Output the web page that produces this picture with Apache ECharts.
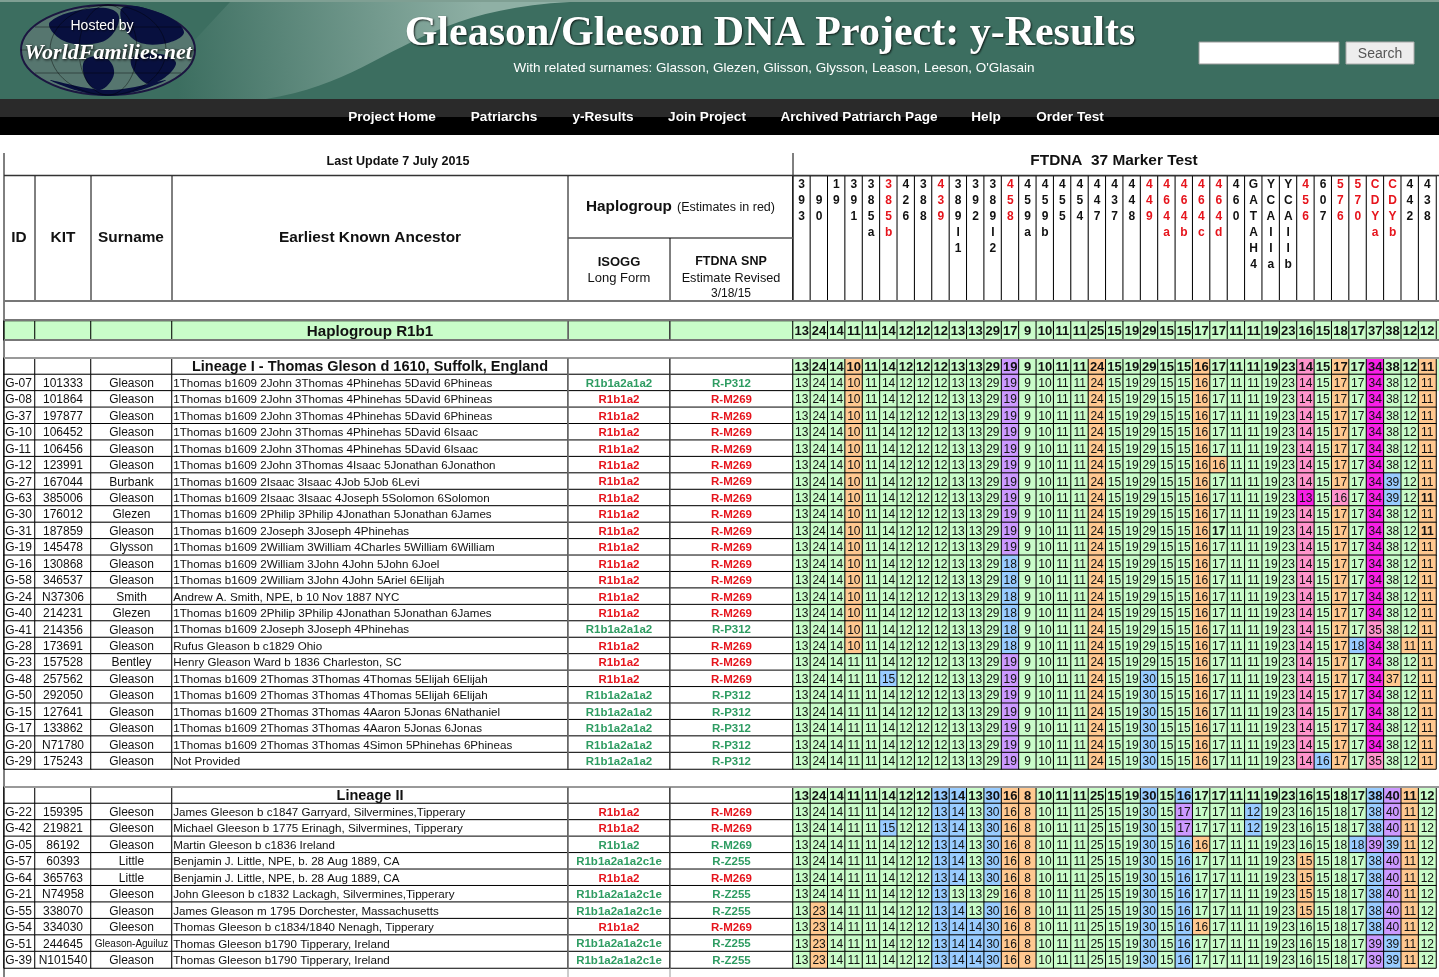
<!DOCTYPE html>
<html>
<head>
<meta charset="UTF-8">
<title>Gleason/Gleeson DNA Project: y-Results</title>
<script src="https://cdn.jsdelivr.net/npm/echarts@6/dist/echarts.min.js"></script>
<style>
html, body { margin: 0; padding: 0; background: #fff; }
#container { width: 1439px; height: 977px; }
</style>
</head>
<body>
<div id="container"></div>
<script>
// marker names, top to bottom in the header cell (a leading blank keeps the empty first line)
var markerNames = ['393',' 90','19','391','385a','385b','426','388','439','389I1','392','389I2','458','459a','459b','455','454','447','437','448','449','464a','464b','464c','464d','460','GATAH4','YCAIIa','YCAIIb','456','607','576','570','CDYa','CDYb','442','438'];
var redMarkers = ['385b','439','458','449','464a','464b','464c','464d','456','576','570','CDYa','CDYb'];

// the reference row, every other cell is coloured by its distance from this one
var modalRow = [13,24,14,11,11,14,12,12,12,13,13,29,17,9,10,11,11,25,15,19,29,15,15,17,17,11,11,19,23,16,15,18,17,37,38,12,12];

var heading1 = 'Lineage I - Thomas Gleson d 1610, Suffolk, England';
var header1 = [13,24,14,10,11,14,12,12,12,13,13,29,19,9,10,11,11,24,15,19,29,15,15,16,17,11,11,19,23,14,15,17,17,34,38,12,11];
var ids1 = ['G-07','G-08','G-37','G-10','G-11','G-12','G-27','G-63','G-30','G-31','G-19','G-16','G-58','G-24','G-40','G-41','G-28','G-23','G-48','G-50','G-15','G-17','G-20','G-29'];
var kits1 = ['101333','101864','197877','106452','106456','123991','167044','385006','176012','187859','145478','130868','346537','N37306','214231','214356','173691','157528','257562','292050','127641','133862','N71780','175243'];
var surnames1 = ['Gleason','Gleason','Gleason','Gleason','Gleason','Gleason','Burbank','Gleason','Glezen','Gleason','Glysson','Gleason','Gleason','Smith','Glezen','Gleason','Gleason','Bentley','Gleason','Gleason','Gleason','Gleason','Gleason','Gleason'];
var ancestors1 = [
  '1Thomas b1609 2John 3Thomas 4Phinehas 5David 6Phineas',
  '1Thomas b1609 2John 3Thomas 4Phinehas 5David 6Phineas',
  '1Thomas b1609 2John 3Thomas 4Phinehas 5David 6Phineas',
  '1Thomas b1609 2John 3Thomas 4Phinehas 5David 6Isaac',
  '1Thomas b1609 2John 3Thomas 4Phinehas 5David 6Isaac',
  '1Thomas b1609 2John 3Thomas 4Isaac 5Jonathan 6Jonathon',
  '1Thomas b1609 2Isaac 3Isaac 4Job 5Job 6Levi',
  '1Thomas b1609 2Isaac 3Isaac 4Joseph 5Solomon 6Solomon',
  '1Thomas b1609 2Philip 3Philip 4Jonathan 5Jonathan 6James',
  '1Thomas b1609 2Joseph 3Joseph 4Phinehas',
  '1Thomas b1609 2William 3William 4Charles 5William 6William',
  '1Thomas b1609 2William 3John 4John 5John 6Joel',
  '1Thomas b1609 2William 3John 4John 5Ariel 6Elijah',
  'Andrew A. Smith, NPE, b 10 Nov 1887 NYC',
  '1Thomas b1609 2Philip 3Philip 4Jonathan 5Jonathan 6James',
  '1Thomas b1609 2Joseph 3Joseph 4Phinehas',
  'Rufus Gleason b c1829 Ohio',
  'Henry Gleason Ward b 1836 Charleston, SC',
  '1Thomas b1609 2Thomas 3Thomas 4Thomas 5Elijah 6Elijah',
  '1Thomas b1609 2Thomas 3Thomas 4Thomas 5Elijah 6Elijah',
  '1Thomas b1609 2Thomas 3Thomas 4Aaron 5Jonas 6Nathaniel',
  '1Thomas b1609 2Thomas 3Thomas 4Aaron 5Jonas 6Jonas',
  '1Thomas b1609 2Thomas 3Thomas 4Simon 5Phinehas 6Phineas',
  'Not Provided'
];
var isogg1 = ['R1b1a2a1a2','R1b1a2','R1b1a2','R1b1a2','R1b1a2','R1b1a2','R1b1a2','R1b1a2','R1b1a2','R1b1a2','R1b1a2','R1b1a2','R1b1a2','R1b1a2','R1b1a2','R1b1a2a1a2','R1b1a2','R1b1a2','R1b1a2','R1b1a2a1a2','R1b1a2a1a2','R1b1a2a1a2','R1b1a2a1a2','R1b1a2a1a2'];
var snp1 = ['R-P312','R-M269','R-M269','R-M269','R-M269','R-M269','R-M269','R-M269','R-M269','R-M269','R-M269','R-M269','R-M269','R-M269','R-M269','R-P312','R-M269','R-M269','R-M269','R-P312','R-P312','R-P312','R-P312','R-P312'];
var tested1 = [1,0,0,0,0,0,0,0,0,0,0,0,0,0,0,1,0,0,0,1,1,1,1,1];
var markers1 = [
  [13,24,14,10,11,14,12,12,12,13,13,29,19,9,10,11,11,24,15,19,29,15,15,16,17,11,11,19,23,14,15,17,17,34,38,12,11],
  [13,24,14,10,11,14,12,12,12,13,13,29,19,9,10,11,11,24,15,19,29,15,15,16,17,11,11,19,23,14,15,17,17,34,38,12,11],
  [13,24,14,10,11,14,12,12,12,13,13,29,19,9,10,11,11,24,15,19,29,15,15,16,17,11,11,19,23,14,15,17,17,34,38,12,11],
  [13,24,14,10,11,14,12,12,12,13,13,29,19,9,10,11,11,24,15,19,29,15,15,16,17,11,11,19,23,14,15,17,17,34,38,12,11],
  [13,24,14,10,11,14,12,12,12,13,13,29,19,9,10,11,11,24,15,19,29,15,15,16,17,11,11,19,23,14,15,17,17,34,38,12,11],
  [13,24,14,10,11,14,12,12,12,13,13,29,19,9,10,11,11,24,15,19,29,15,15,16,16,11,11,19,23,14,15,17,17,34,38,12,11],
  [13,24,14,10,11,14,12,12,12,13,13,29,19,9,10,11,11,24,15,19,29,15,15,16,17,11,11,19,23,14,15,17,17,34,39,12,11],
  [13,24,14,10,11,14,12,12,12,13,13,29,19,9,10,11,11,24,15,19,29,15,15,16,17,11,11,19,23,13,15,16,17,34,39,12,11],
  [13,24,14,10,11,14,12,12,12,13,13,29,19,9,10,11,11,24,15,19,29,15,15,16,17,11,11,19,23,14,15,17,17,34,38,12,11],
  [13,24,14,10,11,14,12,12,12,13,13,29,19,9,10,11,11,24,15,19,29,15,15,16,17,11,11,19,23,14,15,17,17,34,38,12,11],
  [13,24,14,10,11,14,12,12,12,13,13,29,19,9,10,11,11,24,15,19,29,15,15,16,17,11,11,19,23,14,15,17,17,34,38,12,11],
  [13,24,14,10,11,14,12,12,12,13,13,29,18,9,10,11,11,24,15,19,29,15,15,16,17,11,11,19,23,14,15,17,17,34,38,12,11],
  [13,24,14,10,11,14,12,12,12,13,13,29,18,9,10,11,11,24,15,19,29,15,15,16,17,11,11,19,23,14,15,17,17,34,38,12,11],
  [13,24,14,10,11,14,12,12,12,13,13,29,18,9,10,11,11,24,15,19,29,15,15,16,17,11,11,19,23,14,15,17,17,34,38,12,11],
  [13,24,14,10,11,14,12,12,12,13,13,29,18,9,10,11,11,24,15,19,29,15,15,16,17,11,11,19,23,14,15,17,17,34,38,12,11],
  [13,24,14,10,11,14,12,12,12,13,13,29,18,9,10,11,11,24,15,19,29,15,15,16,17,11,11,19,23,14,15,17,17,35,38,12,11],
  [13,24,14,10,11,14,12,12,12,13,13,29,18,9,10,11,11,24,15,19,29,15,15,16,17,11,11,19,23,14,15,17,18,34,38,11,11],
  [13,24,14,11,11,14,12,12,12,13,13,29,19,9,10,11,11,24,15,19,29,15,15,16,17,11,11,19,23,14,15,17,17,34,38,12,11],
  [13,24,14,11,11,15,12,12,12,13,13,29,19,9,10,11,11,24,15,19,30,15,15,16,17,11,11,19,23,14,15,17,17,34,37,12,11],
  [13,24,14,11,11,14,12,12,12,13,13,29,19,9,10,11,11,24,15,19,30,15,15,16,17,11,11,19,23,14,15,17,17,34,38,12,11],
  [13,24,14,11,11,14,12,12,12,13,13,29,19,9,10,11,11,24,15,19,30,15,15,16,17,11,11,19,23,14,15,17,17,34,38,12,11],
  [13,24,14,11,11,14,12,12,12,13,13,29,19,9,10,11,11,24,15,19,30,15,15,16,17,11,11,19,23,14,15,17,17,34,38,12,11],
  [13,24,14,11,11,14,12,12,12,13,13,29,19,9,10,11,11,24,15,19,30,15,15,16,17,11,11,19,23,14,15,17,17,34,38,12,11],
  [13,24,14,11,11,14,12,12,12,13,13,29,19,9,10,11,11,24,15,19,30,15,15,16,17,11,11,19,23,14,16,17,17,35,38,12,11]
];

var heading2 = 'Lineage II';
var header2 = [13,24,14,11,11,14,12,12,13,14,13,30,16,8,10,11,11,25,15,19,30,15,16,17,17,11,11,19,23,16,15,18,17,38,40,11,12];
var ids2 = ['G-22','G-42','G-05','G-57','G-64','G-21','G-55','G-54','G-51','G-39'];
var kits2 = ['159395','219821','86192','60393','365763','N74958','338070','334030','244645','N101540'];
var surnames2 = ['Gleeson','Gleeson','Gleason','Little','Little','Gleeson','Gleason','Gleeson','Gleason-Aguiluz','Gleason'];
var ancestors2 = [
  'James Gleeson b c1847 Garryard, Silvermines,Tipperary',
  'Michael Gleeson b 1775 Erinagh, Silvermines, Tipperary',
  'Martin Gleeson b c1836 Ireland',
  'Benjamin J. Little, NPE, b. 28 Aug 1889, CA',
  'Benjamin J. Little, NPE, b. 28 Aug 1889, CA',
  'John Gleeson b c1832 Lackagh, Silvermines,Tipperary',
  'James Gleason m 1795 Dorchester, Massachusetts',
  'Thomas Gleeson b c1834/1840 Nenagh, Tipperary',
  'Thomas Gleeson b1790 Tipperary, Ireland',
  'Thomas Gleeson b1790 Tipperary, Ireland'
];
var isogg2 = ['R1b1a2','R1b1a2','R1b1a2','R1b1a2a1a2c1e','R1b1a2','R1b1a2a1a2c1e','R1b1a2a1a2c1e','R1b1a2','R1b1a2a1a2c1e','R1b1a2a1a2c1e'];
var snp2 = ['R-M269','R-M269','R-M269','R-Z255','R-M269','R-Z255','R-Z255','R-M269','R-Z255','R-Z255'];
var tested2 = [0,0,1,1,0,1,1,0,1,1];
var markers2 = [
  [13,24,14,11,11,14,12,12,13,14,13,30,16,8,10,11,11,25,15,19,30,15,17,17,17,11,12,19,23,16,15,18,17,38,40,11,12],
  [13,24,14,11,11,15,12,12,13,14,13,30,16,8,10,11,11,25,15,19,30,15,17,17,17,11,12,19,23,16,15,18,17,38,40,11,12],
  [13,24,14,11,11,14,12,12,13,14,13,30,16,8,10,11,11,25,15,19,30,15,16,16,17,11,11,19,23,16,15,18,18,39,39,11,12],
  [13,24,14,11,11,14,12,12,13,14,13,30,16,8,10,11,11,25,15,19,30,15,16,17,17,11,11,19,23,15,15,18,17,38,40,11,12],
  [13,24,14,11,11,14,12,12,13,14,13,30,16,8,10,11,11,25,15,19,30,15,16,17,17,11,11,19,23,15,15,18,17,38,40,11,12],
  [13,24,14,11,11,14,12,12,13,13,13,29,16,8,10,11,11,25,15,19,30,15,16,17,17,11,11,19,23,15,15,18,17,38,40,11,12],
  [13,23,14,11,11,14,12,12,13,14,13,30,16,8,10,11,11,25,15,19,30,15,16,17,17,11,11,19,23,15,15,18,17,38,40,11,12],
  [13,23,14,11,11,14,12,12,13,14,14,30,16,8,10,11,11,25,15,19,30,15,16,16,17,11,11,19,23,16,15,18,17,38,40,11,12],
  [13,23,14,11,11,14,12,12,13,14,14,30,16,8,10,11,11,25,15,19,30,15,16,17,17,11,11,19,23,16,15,18,17,39,39,11,12],
  [13,23,14,11,11,14,12,12,13,14,14,30,16,8,10,11,11,25,15,19,30,15,16,17,17,11,11,19,23,16,15,18,17,39,39,11,12]
];

// distance from the modal value -> cell colour
var deviationColors = { '-3': '#F81FE6', '-2': '#FF94CC', '-1': '#FFC890', '0': '#C9FCC9', '1': '#99CCFF', '2': '#CC99FF' };

var FONT = '"Liberation Sans", Arial, sans-serif';
var RED = '#E6141C', GREEN = '#2E9C62', LINE = '#000';

// table geometry
var colEdges = [4, 35, 91, 172, 568, 670, 793];
var markerLeft = 793, markerWidth = 643;

var grids = [], xAxes = [], yAxes = [], series = [];

function addBlock(left, top, width, height, xCount, yCount, data, label) {
    var idx = grids.length;
    grids.push({ left: left, top: top, width: width, height: height, containLabel: false });
    xAxes.push({ type: 'category', gridIndex: idx, show: false, data: Array.from({ length: xCount }, function (_, i) { return i; }) });
    yAxes.push({ type: 'category', gridIndex: idx, show: false, inverse: true, data: Array.from({ length: yCount }, function (_, i) { return i; }) });
    series.push({
        type: 'heatmap', xAxisIndex: idx, yAxisIndex: idx, data: data, silent: true, progressive: 0,
        itemStyle: { borderColor: LINE, borderWidth: 1 },
        label: Object.assign({ show: true, fontFamily: FONT, fontSize: 12, color: '#111', offset: [0, 1] }, label),
        emphasis: { disabled: true }
    });
}

// one table column drawn as a one-column heatmap, text comes from the closure
function textColumn(col, top, height, texts, colors, styles, position, fill) {
    var data = texts.map(function (t, r) {
        var item = { value: [0, r, r], itemStyle: { color: fill } };
        item.label = Object.assign({ color: colors ? colors[r] : '#111' }, styles ? styles[r] : null);
        return item;
    });
    addBlock(colEdges[col], top, colEdges[col + 1] - colEdges[col], height, 1, texts.length, data, {
        position: position || 'inside', distance: 2,
        formatter: function (p) { return texts[p.dataIndex]; }
    });
}

function markerBlock(top, height, rows, boldRow, boldCells) {
    var data = [];
    rows.forEach(function (row, r) {
        row.forEach(function (v, c) {
            var bold = r === boldRow || (boldCells && boldCells.some(function (b) { return b[0] === r && b[1] === c; }));
            data.push({
                value: [c, r, v],
                itemStyle: { color: deviationColors[String(v - modalRow[c])] },
                label: { fontWeight: bold ? 'bold' : 'normal', fontSize: r === boldRow ? 13 : 12 }
            });
        });
    });
    addBlock(markerLeft, top, markerWidth, height, modalRow.length, rows.length, data, {
        formatter: function (p) { return p.value[2]; }
    });
}

function lineageBlock(top, height, heading, header, ids, kits, surnames, ancestors, isogg, snp, tested, markers, boldCells) {
    var blank = [''];
    var rowColors = tested.map(function (t) { return t ? GREEN : RED; });
    var headColor = ['#111'].concat(rowColors);
    var haploStyle = [null].concat(tested.map(function () { return { fontWeight: 'bold', fontSize: 11.5 }; }));
    var nameStyle = [null].concat(surnames.map(function (s) { return s.length > 10 ? { fontSize: 10 } : null; }));

    textColumn(0, top, height, blank.concat(ids), null, null, 'insideLeft', '#fff');
    textColumn(1, top, height, blank.concat(kits), null, null, null, '#fff');
    textColumn(2, top, height, blank.concat(surnames), null, nameStyle, null, '#fff');
    // the heading sits centred, the ancestors run from the left edge
    var lines = [heading].concat(ancestors);
    var data = lines.map(function (t, r) {
        return {
            value: [0, r, r], itemStyle: { color: '#fff' },
            label: r === 0 ? { fontSize: 14.5, fontWeight: 'bold', position: 'inside' } : { position: 'insideLeft', fontSize: 11.6 }
        };
    });
    addBlock(colEdges[3], top, colEdges[4] - colEdges[3], height, 1, lines.length, data, {
        distance: 2, formatter: function (p) { return lines[p.dataIndex]; }
    });
    textColumn(4, top, height, blank.concat(isogg), headColor, haploStyle, null, '#fff');
    textColumn(5, top, height, blank.concat(snp), headColor, haploStyle, null, '#fff');
    markerBlock(top, height, [header].concat(markers), 0, boldCells);
}

// haplogroup row
var haploRowStyle = [{ fontSize: 15.2, fontWeight: 'bold' }];
[0, 1, 2, 4, 5].forEach(function (c) { textColumn(c, 321, 19, [''], null, null, null, '#C9FCC9'); });
textColumn(3, 321, 19, ['Haplogroup R1b1'], null, haploRowStyle, null, '#C9FCC9');
markerBlock(321, 19, [modalRow], 0);

lineageBlock(358, 411, heading1, header1, ids1, kits1, surnames1, ancestors1, isogg1, snp1, tested1, markers1,
    [[8, 36], [10, 24], [10, 36]]);
lineageBlock(787, 181, heading2, header2, ids2, kits2, surnames2, ancestors2, isogg2, snp2, tested2, markers2);

// marker names header: one row, labels stacked from the top of each cell
var markerHeadData = markerNames.map(function (name, c) {
    return {
        value: [c, 0, c], itemStyle: { color: '#fff' },
        label: { color: redMarkers.indexOf(name) >= 0 ? RED : '#111' }
    };
});
addBlock(markerLeft, 176, markerWidth, 125, markerNames.length, 1, markerHeadData, {
    position: 'insideTop', distance: 1, fontWeight: 'bold', lineHeight: 16, offset: [0, 0],
    formatter: function (p) { return markerNames[p.dataIndex].split('').join('\n'); }
});

// page furniture around the table
function rect(x, y, w, h, fill, extra) {
    return Object.assign({ type: 'rect', silent: true, shape: { x: x, y: y, width: w, height: h }, style: { fill: fill } }, extra);
}
function line(x1, y1, x2, y2, color, width) {
    return { type: 'line', silent: true, z: 20, shape: { x1: x1, y1: y1, x2: x2, y2: y2 }, style: { stroke: color, lineWidth: width || 1 } };
}
function txt(text, x, y, font, fill, align, extra) {
    return {
        type: 'text', silent: true, z: 21,
        style: Object.assign({
            text: text, x: x, y: y, font: font, fill: fill,
            align: align || 'center', textAlign: align || 'center',
            verticalAlign: 'middle', textVerticalAlign: 'middle'
        }, extra)
    };
}
function bezier(p0, p1, p2, p3, n) {
    var pts = [];
    for (var i = 0; i <= n; i++) {
        var t = i / n, u = 1 - t;
        pts.push([
            u * u * u * p0[0] + 3 * u * u * t * p1[0] + 3 * u * t * t * p2[0] + t * t * t * p3[0],
            u * u * u * p0[1] + 3 * u * u * t * p1[1] + 3 * u * t * t * p2[1] + t * t * t * p3[1]
        ]);
    }
    return pts;
}
function blob(points) {
    return { type: 'polygon', silent: true, z: 3, shape: { points: points, smooth: 0.4 }, style: { fill: '#08103F' } };
}
function gridLine(shape, type) {
    return { type: type, silent: true, z: 4, shape: shape, style: { fill: 'none', stroke: 'rgba(0,0,0,0.6)', lineWidth: 0.7 } };
}

var shadow = { textShadowColor: 'rgba(0,0,0,0.75)', textShadowBlur: 2, textShadowOffsetX: 1, textShadowOffsetY: 1 };
var navFont = 'bold 13.6px ' + FONT;

var furniture = [
    rect(0, 0, 1439, 99, '#3C6E60'),
    rect(0, 0, 1439, 2, '#7F9F93'),
    {
        type: 'polygon', silent: true, z: 1,
        shape: { points: [[140, 99]].concat(bezier([266, 99], [385, 80], [410, 10], [570, 2], 24), [[230, 2]]) },
        style: { fill: { type: 'linear', x: 0.08, y: 0.6, x2: 0.8, y2: 0.25, colorStops: [{ offset: 0, color: '#3C6E60' }, { offset: 1, color: '#8FB0A5' }] } }
    },
    rect(0, 99, 1439, 18, '#2A2A2A'),
    rect(0, 117, 1439, 18, '#000'),

    // globe logo
    { type: 'ellipse', silent: true, z: 2, shape: { cx: 108, cy: 50, rx: 87, ry: 45 }, style: { fill: '#56766F', stroke: '#1B1640', lineWidth: 2 } },
    blob([[50, 22], [95, 8], [118, 14], [112, 35], [92, 44], [62, 40]]),
    blob([[122, 8], [160, 13], [184, 32], [162, 44], [132, 38]]),
    blob([[85, 60], [106, 58], [114, 74], [100, 90], [86, 80]]),
    blob([[132, 58], [160, 54], [176, 64], [152, 84], [136, 74]]),
    blob([[50, 80], [108, 90], [166, 80], [108, 96]]),
    gridLine({ cx: 108, cy: 50, rx: 58, ry: 45 }, 'ellipse'),
    gridLine({ cx: 108, cy: 50, rx: 29, ry: 45 }, 'ellipse'),
    gridLine({ x1: 21, y1: 50, x2: 195, y2: 50 }, 'line'),
    gridLine({ x1: 35, y1: 27, x2: 181, y2: 27 }, 'line'),
    gridLine({ x1: 35, y1: 73, x2: 181, y2: 73 }, 'line'),
    txt('Hosted by', 102, 26, '14px ' + FONT, '#fff', 'center', shadow),
    txt('WorldFamilies.net', 108, 53, 'italic bold 22px "Liberation Serif", serif', '#fff', 'center',
        { textShadowColor: '#000', textShadowBlur: 3, textShadowOffsetX: 1, textShadowOffsetY: 1 }),

    txt('Gleason/Gleeson DNA Project: y-Results', 770, 34, 'bold 42px "Liberation Serif", serif', '#fff', 'center', shadow),
    txt('With related surnames: Glasson, Glezen, Glisson, Glysson, Leason, Leeson, O\'Glasain', 774, 68, '13.5px ' + FONT, '#fff'),
    rect(1199, 42, 140, 22, '#fff', { style: { fill: '#fff', stroke: '#999', lineWidth: 1 } }),
    rect(1346, 42, 68, 22, '#EDEDED', { style: { fill: '#EDEDED', stroke: '#AAA', lineWidth: 1 } }),
    txt('Search', 1380, 54, '14px ' + FONT, '#555'),

    txt('Project Home', 392, 117, navFont, '#fff', 'center', shadow),
    txt('Patriarchs', 504, 117, navFont, '#fff', 'center', shadow),
    txt('y-Results', 603, 117, navFont, '#fff', 'center', shadow),
    txt('Join Project', 707, 117, navFont, '#fff', 'center', shadow),
    txt('Archived Patriarch Page', 859, 117, navFont, '#fff', 'center', shadow),
    txt('Help', 986, 117, navFont, '#fff', 'center', shadow),
    txt('Order Test', 1070, 117, navFont, '#fff', 'center', shadow),

    // table header
    line(4, 153, 4, 977, LINE),
    line(793, 153, 793, 301, LINE),
    line(4, 175.5, 1439, 175.5, '#333', 1.5),
    line(35, 176, 35, 301, LINE),
    line(91, 176, 91, 301, LINE),
    line(172, 176, 172, 301, LINE),
    line(568, 176, 568, 301, LINE),
    line(568, 238, 793, 238, '#555', 1.5),
    line(670, 238, 670, 301, LINE),
    line(4, 301, 1439, 301, '#777', 2),
    line(4, 320, 1439, 320, '#777', 2),
    line(4, 340, 1439, 340, '#777', 2),
    line(4, 358, 1439, 358, '#999', 2),
    line(4, 787, 1439, 787, '#999', 2),
    // haplogroup columns carry grey rules, only where rows are drawn
    line(568, 321, 568, 340, '#777', 1.5),
    line(670, 321, 670, 340, '#555', 1),
    line(568, 358, 568, 769, '#777', 1.5),
    line(670, 358, 670, 769, '#555', 1),
    line(568, 787, 568, 968, '#777', 1.5),
    line(670, 787, 670, 968, '#555', 1),
    line(568, 968, 568, 977, '#999'),
    line(670, 968, 670, 977, '#999'),
    // cut-off next column at the right edge
    rect(1436.5, 321, 3, 19, '#C9FCC9'),
    rect(1436.5, 359, 3, 32, '#C9FCC9'),

    txt('Last Update 7 July 2015', 398, 162, 'bold 12.6px ' + FONT, '#111'),
    txt('FTDNA  37 Marker Test', 1114, 161, 'bold 15.4px ' + FONT, '#111'),
    txt('ID', 19, 238, 'bold 15.4px ' + FONT, '#111'),
    txt('KIT', 63, 238, 'bold 15.4px ' + FONT, '#111'),
    txt('Surname', 131, 238, 'bold 15.4px ' + FONT, '#111'),
    txt('Earliest Known Ancestor', 370, 238, 'bold 15.4px ' + FONT, '#111'),
    txt('Haplogroup', 586, 207, 'bold 15.3px ' + FONT, '#111', 'left'),
    txt('(Estimates in red)', 677, 208, '12.5px ' + FONT, '#111', 'left'),
    txt('ISOGG', 619, 262, 'bold 13px ' + FONT, '#111'),
    txt('Long Form', 619, 278, '13px ' + FONT, '#111'),
    txt('FTDNA SNP', 731, 262, 'bold 12.5px ' + FONT, '#111'),
    txt('Estimate Revised', 731, 278, '12.7px ' + FONT, '#111'),
    txt('3/18/15', 731, 294, '12px ' + FONT, '#111')
];

var mycharts = echarts.init(document.getElementById('container'));
mycharts.setOption({
    animation: false,
    backgroundColor: '#fff',
    tooltip: { show: false },
    graphic: { elements: furniture },
    grid: grids,
    xAxis: xAxes,
    yAxis: yAxes,
    series: series
});
</script>
</body>
</html>
